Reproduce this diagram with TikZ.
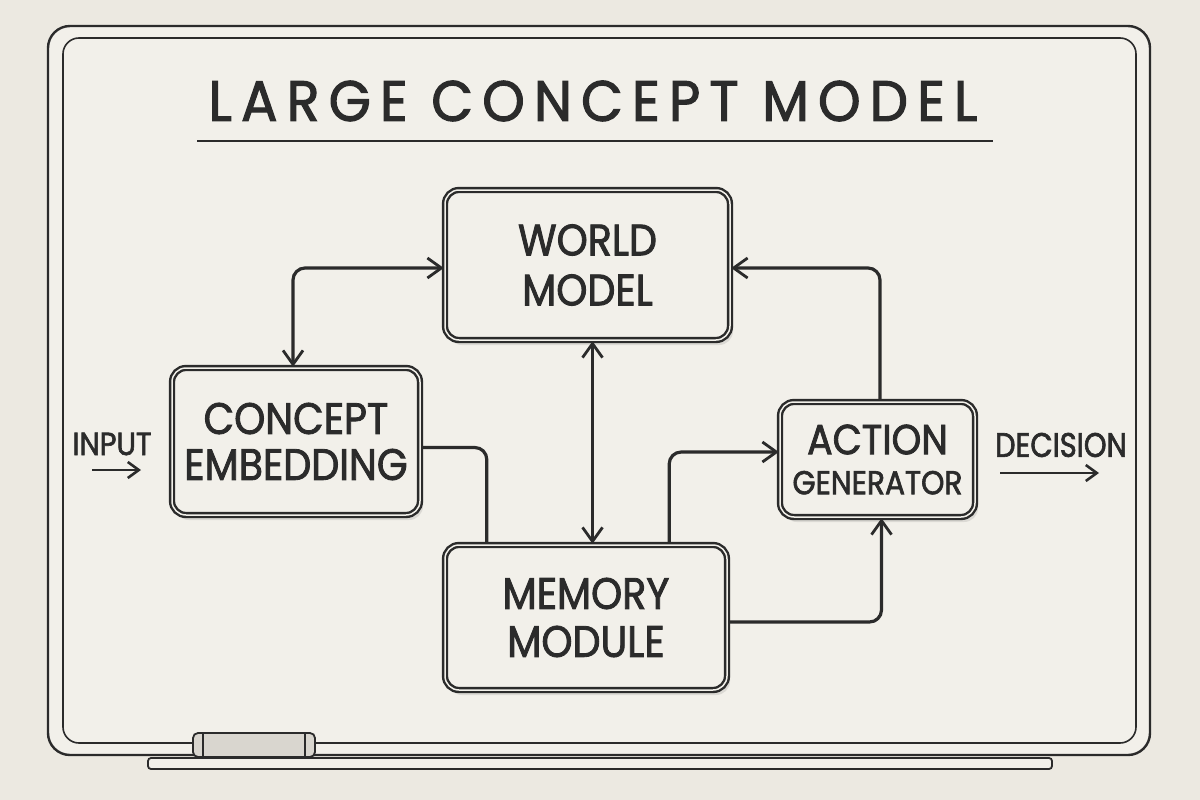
\documentclass[tikz,border=0pt]{standalone}
\usepackage{fontspec}
\setmainfont{Poppins}[FakeBold=1.9, FakeStretch=0.9]
\usetikzlibrary{arrows.meta,shadows,calc}
\definecolor{ink}{HTML}{2B2B2B}
\definecolor{paper}{HTML}{ECE9E1}
\definecolor{board}{HTML}{F2F0EA}
\tikzset{
  blk/.style={draw=ink, line width=2.4pt, double=board, double distance=1.5pt,
    rounded corners=14pt, fill=board, text=ink, align=center,
    drop shadow={opacity=0.2, shadow xshift=3pt, shadow yshift=-5pt}},
  link/.style={draw=ink, line width=3.2pt, rounded corners=12pt},
  tip/.style={-{Straight Barb[length=14pt,width=20pt,line width=2.8pt]}},
  bitip/.style={{Straight Barb[length=14pt,width=20pt,line width=2.8pt]}-{Straight Barb[length=14pt,width=20pt,line width=2.8pt]}},
  smalltip/.style={-{Straight Barb[length=11pt,width=16pt,line width=2.6pt]}},
  lbl/.style={text=ink, inner sep=0pt},
  frame/.style={draw=ink, line width=2.4pt}
}
\begin{document}
\begin{tikzpicture}[x=1pt,y=-1pt]
\useasboundingbox (0,0) rectangle (1200,800);
\fill[paper] (0,0) rectangle (1200,800);
% board
\filldraw[frame, fill=board, rounded corners=22pt] (48,26) rectangle (1150,755);
\draw[frame, line width=1.6pt, rounded corners=16pt] (63,38) rectangle (1136,743);
% tray and marker
\draw[frame, line width=1.8pt, fill=board, rounded corners=3pt] (148,758) rectangle (1052,769);
\draw[frame, line width=1.8pt, fill=paper!92!black, rounded corners=5pt] (193,733) rectangle (315,757);
\draw[frame, line width=1.2pt] (203,734) -- (203,756);
\draw[frame, line width=1.2pt] (305,734) -- (305,756);
% title
\node[lbl, font=\fontsize{57}{60}\selectfont\addfontfeature{LetterSpace=16, FakeStretch=0.95}] (title) at (593,101) {LARGE CONCEPT MODEL};
\coordinate (ulA) at (197,141);
\coordinate (ulB) at (993,141);
\draw[ink, line width=2pt] (ulA) -- (ulB);
% blocks
\node[blk, minimum width=285pt, minimum height=150pt, font=\fontsize{44}{50}\selectfont] (WM) at (587.5,265) {WORLD\\MODEL};
\node[blk, minimum width=248pt, minimum height=147pt, font=\fontsize{44}{46}\selectfont] (CE) at (296,441.5) {CONCEPT\\EMBEDDING};
\node[blk, minimum width=195pt, minimum height=115pt, font=\fontsize{42}{40}\selectfont] (AG) at (877.5,459.5) {ACTION\\{\fontsize{33}{40}\selectfont GENERATOR}};
\node[blk, minimum width=282pt, minimum height=145pt, font=\fontsize{44}{48}\selectfont] (MM) at (586,617.5) {MEMORY\\MODULE};
% labels
\node[lbl, font=\fontsize{32}{34}\selectfont] (IN) at (112,444) {INPUT};
\coordinate (in1) at (92,470);
\coordinate (in2) at (141,470);
\draw[ink, line width=2.5pt, smalltip] (in1) -- (in2);
\node[lbl, font=\fontsize{34}{36}\selectfont\addfontfeature{FakeStretch=0.85}] (DEC) at (1061,445) {DECISION};
\coordinate (de1) at (1000,473);
\coordinate (de2) at (1099,473);
\draw[ink, line width=2.5pt, smalltip] (de1) -- (de2);
% connectors
\draw[link, bitip] ([xshift=-3]CE.north) |- ([yshift=-3]WM.west);
\draw[link, bitip] ([xshift=5]WM.south) -- ([xshift=5]WM.south |- MM.north);
\draw[link] ([yshift=-6]CE.east) -| ([xshift=43]MM.north west);
\draw[link, tip] ([xshift=-59]MM.north east) |- ([yshift=7.5]AG.west);
\draw[link, tip] ([yshift=-4.5]MM.east) -| ([xshift=4]AG.south);
\draw[link, tip] ([xshift=2.5]AG.north) |- ([yshift=-3]WM.east);
\end{tikzpicture}
\end{document}
